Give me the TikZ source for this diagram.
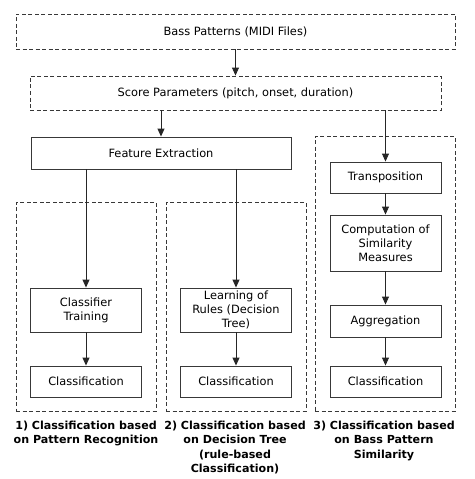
\documentclass[tikz,border=0pt]{standalone}
\usepackage{fontspec}
\setmainfont{DejaVu Sans}
\usetikzlibrary{arrows.meta}
\begin{document}
\begin{tikzpicture}[x=1pt,y=-1pt,
  line width=0.9pt,
  every node/.style={font=\fontsize{11.4}{14}\selectfont, text=black},
  dbox/.style={draw=black!78, dash pattern=on 4pt off 2.5pt, inner sep=0pt},
  sbox/.style={draw=black!78, align=center, inner sep=0pt, minimum width=111pt},
  arr/.style={draw=black!85, -{Triangle[length=8pt,width=7pt]}},
  lbl/.style={font=\bfseries\fontsize{11.1}{14.5}\selectfont, align=center, anchor=north}]
\useasboundingbox (0,0) rectangle (474,479);

% top boxes
\node[dbox, minimum width=439pt, minimum height=35pt] (bass) at (235.5,31.5) {Bass Patterns (MIDI Files)};
\node[dbox, minimum width=411pt, minimum height=34pt] (score) at (235.5,93) {Score Parameters (pitch, onset, duration)};
\node[draw=black!78, inner sep=0pt, minimum width=260pt, minimum height=32pt] (fe) at (161,153) {Feature Extraction};

% dashed containers
\node[dbox, minimum width=140pt, minimum height=209pt] (g1) at (86,306.5) {};
\node[dbox, minimum width=140pt, minimum height=209pt] (g2) at (236,306.5) {};
\node[dbox, minimum width=140pt, minimum height=275pt] (g3) at (385,273.5) {};

% column 1
\node[sbox, minimum height=44pt] (ct) at (86,310) {Classifier\\Training};
\node[sbox, minimum height=31pt] (c1) at (86,381.5) {Classification};
% column 2
\node[sbox, minimum height=44pt] (lr) at (236,310) {Learning of\\Rules (Decision\\Tree)};
\node[sbox, minimum height=31pt] (c2) at (236,381.5) {Classification};
% column 3
\node[sbox, minimum height=31pt] (tr) at (385.5,177.5) {Transposition};
\node[sbox, minimum height=56pt] (cs) at (385.5,243) {Computation of\\Similarity\\Measures};
\node[sbox, minimum height=32pt] (ag) at (385.5,321) {Aggregation};
\node[sbox, minimum height=31pt] (c3) at (385.5,381.5) {Classification};

% arrows
\draw[arr] (bass) -- (score);
\draw[arr] (fe.north |- score.south) -- (fe.north);
\draw[arr] (tr.north |- score.south) -- (tr.north);
\draw[arr] (ct.north |- fe.south) -- (ct.north);
\draw[arr] (lr.north |- fe.south) -- (lr.north);
\draw[arr] (ct) -- (c1);
\draw[arr] (lr) -- (c2);
\draw[arr] (tr) -- (cs);
\draw[arr] (cs) -- (ag);
\draw[arr] (ag) -- (c3);

% labels
\node[lbl] (l1) at (86,417) {1) Classification based\\on Pattern Recognition};
\node[lbl] (l2) at (235,417) {2) Classification based\\on Decision Tree\\(rule-based\\Classification)};
\node[lbl] (l3) at (384,417) {3) Classification based\\on Bass Pattern\\Similarity};
\end{tikzpicture}
\end{document}
